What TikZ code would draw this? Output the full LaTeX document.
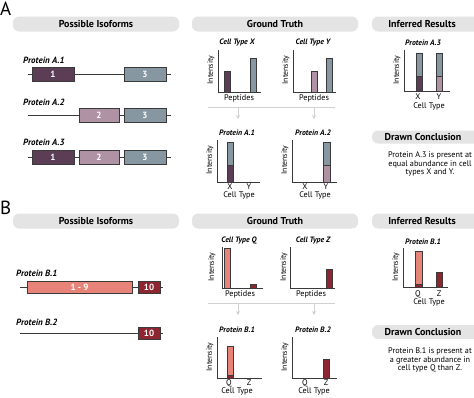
\documentclass[tikz,border=0pt]{standalone}
\usepackage{fontspec}
\setmainfont{PT Sans}
\usepackage{xcolor}
\usetikzlibrary{arrows.meta}

\definecolor{apurple}{HTML}{5B3D55}
\definecolor{amauve}{HTML}{B092A5}
\definecolor{agrey}{HTML}{8797A2}
\definecolor{bsalmon}{HTML}{E8837A}
\definecolor{bred}{HTML}{8E2530}
\definecolor{pillgrey}{HTML}{E4E4E4}
\definecolor{edgegrey}{HTML}{3A3A3A}

\begin{document}
\begin{tikzpicture}[x=1pt, y=-1pt,
  pill/.style={fill=pillgrey, rounded corners=6pt, inner sep=0pt, minimum height=15pt,
    font=\fontsize{10}{12}\selectfont\bfseries},
  pilltext/.style={inner sep=0pt, font=\fontsize{10}{12}\selectfont\bfseries},
  exon/.style={draw=edgegrey, line width=0.6pt, inner sep=0pt, minimum height=14pt,
    text=white, font=\fontsize{9}{10}\selectfont\bfseries},
  gene/.style={line width=0.6pt, edgegrey},
  isolab/.style={anchor=west, inner sep=0pt, font=\fontsize{9}{10}\selectfont\bfseries\itshape},
  ctitle/.style={inner sep=0pt, font=\fontsize{7.8}{9}\selectfont\bfseries\itshape},
  axlab/.style={inner sep=0pt, font=\fontsize{8.2}{9}\selectfont},
  ylab/.style={inner sep=0pt, rotate=90, font=\fontsize{7.8}{9}\selectfont},
  axis/.style={line width=0.8pt, edgegrey},
  bar/.style={draw=edgegrey, line width=0.4pt},
  flow/.style={line width=0.8pt, black!18},
  note/.style={align=center, inner sep=0pt, font=\fontsize{8.2}{8.7}\selectfont}]
\useasboundingbox (0,0) rectangle (474,397);

% ---------------- panel A ----------------
\node[anchor=north west, inner sep=0pt, font=\fontsize{19}{19}\selectfont] (labA) at (0,2) {A};
% titres
\node[pill, minimum width=166pt] (hA1) at (96,24) {Possible Isoforms};
\node[pill, minimum width=166pt] (hA2) at (275,24) {Ground Truth};
\node[pill, minimum width=110pt] (hA3) at (427,24) {};
\node[pilltext] (hA3t) at (422,24) {Inferred Results};

% isoforme A.1
\node[isolab] (pA1) at (23,60) {Protein A.1};
\draw[gene] (28,74) -- (171,74);
\node[exon, fill=apurple, minimum width=42pt] (a1e1) at (53,74) {1};
\node[exon, fill=agrey, minimum width=42pt] (a1e3) at (145,74) {3};
% isoforme A.2
\node[isolab] (pA2) at (23,102) {Protein A.2};
\draw[gene] (28,115) -- (171,115);
\node[exon, fill=amauve, minimum width=40pt] (a2e2) at (99,115) {2};
\node[exon, fill=agrey, minimum width=42pt] (a2e3) at (145,115) {3};
% isoforme A.3
\node[isolab] (pA3) at (23,142) {Protein A.3};
\draw[gene] (28,157) -- (171,157);
\node[exon, fill=apurple, minimum width=42pt] (a3e1) at (53,157) {1};
\node[exon, fill=amauve, minimum width=40pt] (a3e2) at (99,157) {2};
\node[exon, fill=agrey, minimum width=42pt] (a3e3) at (145,157) {3};

% cell type X
\node[ctitle] (tX) at (237,43) {Cell Type X};
\draw[bar, fill=apurple] (224,71) rectangle (230,92);
\draw[bar, fill=agrey] (250,58) rectangle (256,92);
\draw[axis] (218,50) |- (261,92);
\node[ylab] (iX) at (211,70) {Intensity};
\node[axlab] (pX) at (239,98) {Peptides};
% cell type Y
\node[ctitle] (tY) at (313,43) {Cell Type Y};
\draw[bar, fill=amauve] (311,71) rectangle (317,92);
\draw[bar, fill=agrey] (326,58) rectangle (332,92);
\draw[axis] (293,50) |- (336,92);
\node[ylab] (iY) at (286,70) {Intensity};
\node[axlab] (pY) at (314,98) {Peptides};

% fleches
\coordinate (fA1) at (208,107);
\coordinate (fA2) at (335,107);
\draw[flow] (fA1) -- (fA2);
\foreach \xx in {238,314}
  \draw[flow, -{Stealth[length=4pt, width=4pt]}] (\xx,107) -- (\xx,119);

% protein A.1
\node[ctitle] (tA1) at (237,133) {Protein A.1};
\draw[bar, fill=agrey] (227,142) rectangle (233,165);
\draw[bar, fill=apurple] (227,165) rectangle (233,182);
\draw[axis] (217,140) |- (260,182);
\node[ylab] (iA1) at (210,160) {Intensity};
\node[axlab] (xA1) at (230,187) {X};
\node[axlab] (yA1) at (249,187) {Y};
\node[axlab] (cA1) at (239,195) {Cell Type};
% protein A.2
\node[ctitle] (tA2) at (313,133) {Protein A.2};
\draw[bar, fill=agrey] (323,142) rectangle (330,165);
\draw[bar, fill=amauve] (323,165) rectangle (330,182);
\draw[axis] (292,140) |- (337,182);
\node[ylab] (iA2) at (285,160) {Intensity};
\node[axlab] (xA2) at (305,187) {X};
\node[axlab] (yA2) at (326,187) {Y};
\node[axlab] (cA2) at (315,195) {Cell Type};

% inferred A.3
\node[ctitle] (tA3) at (423,43) {Protein A.3};
\draw[bar, fill=agrey] (416,53) rectangle (422,76);
\draw[bar, fill=apurple] (416,76) rectangle (422,91);
\draw[bar, fill=agrey] (436,53) rectangle (442,76);
\draw[bar, fill=amauve] (436,76) rectangle (442,91);
\draw[axis] (404,50) |- (450,91);
\node[ylab] (iA3) at (397,70) {Intensity};
\node[axlab] (xA3) at (418,97) {X};
\node[axlab] (yA3) at (439,97) {Y};
\node[axlab] (cA3) at (429,106) {Cell Type};

% conclusion A
\node[pill, minimum width=110pt, minimum height=13pt] (dA) at (427,137) {};
\node[pilltext] (dAt) at (423,137) {Drawn Conclusion};
\node[note] (nA) at (430,164) {Protein A.3 is present at\\equal abundance in cell\\types X and Y.};

% ---------------- panel B ----------------
\node[anchor=north west, inner sep=0pt, font=\fontsize{19}{19}\selectfont] (labB) at (0,201) {B};
\node[pill, minimum width=166pt] (hB1) at (96,221) {Possible Isoforms};
\node[pill, minimum width=166pt] (hB2) at (275,221) {Ground Truth};
\node[pill, minimum width=110pt] (hB3) at (427,221) {};
\node[pilltext] (hB3t) at (422,221) {Inferred Results};

% isoforme B.1
\node[isolab] (pB1) at (16,273) {Protein B.1};
\draw[gene] (20,287) -- (163,287);
\node[exon, fill=bsalmon, minimum width=105pt, minimum height=12pt] (b1e1) at (79.5,287) {1 - 9};
\node[exon, fill=bred, minimum width=22pt, minimum height=12pt] (b1e10) at (149,287) {10};
% isoforme B.2
\node[isolab] (pB2) at (16,322) {Protein B.2};
\draw[gene] (20,333) -- (163,333);
\node[exon, fill=bred, minimum width=22pt, minimum height=12pt] (b2e10) at (149,333) {10};

% cell type Q
\node[ctitle] (tQ) at (239,241) {Cell Type Q};
\draw[bar, fill=bsalmon] (224,248) rectangle (230,288);
\draw[bar, fill=bred] (250,284) rectangle (256,288);
\draw[axis] (222,247) |- (263,288);
\node[ylab] (iQ) at (212,267) {Intensity};
\node[axlab] (pQ) at (240,294) {Peptides};
% cell type Z
\node[ctitle] (tZ) at (313,241) {Cell Type Z};
\draw[bar, fill=bred] (326,269) rectangle (332,288);
\draw[axis] (290,247) |- (335,288);
\node[ylab] (iZ) at (284,267) {Intensity};
\node[axlab] (pZ) at (311,294) {Peptides};

% fleches
\coordinate (fB1) at (208,303);
\coordinate (fB2) at (335,303);
\draw[flow] (fB1) -- (fB2);
\foreach \xx in {238,314}
  \draw[flow, -{Stealth[length=4pt, width=4pt]}] (\xx,303) -- (\xx,315);

% protein B.1
\node[ctitle] (tB1) at (237,330) {Protein B.1};
\draw[bar, fill=bsalmon] (227,346) rectangle (233,375);
\draw[bar, fill=bred] (227,375) rectangle (233,378);
\draw[axis] (217,337) |- (262,378);
\node[ylab] (iB1) at (210,357) {Intensity};
\node[axlab] (xB1) at (229,383) {Q};
\node[axlab] (yB1) at (249,383) {Z};
\node[axlab] (cB1) at (237,391) {Cell Type};
% protein B.2
\node[ctitle] (tB2) at (313,330) {Protein B.2};
\draw[bar, fill=bred] (323,359) rectangle (329,378);
\draw[axis] (292,337) |- (337,378);
\node[ylab] (iB2) at (285,357) {Intensity};
\node[axlab] (xB2) at (305,383) {Q};
\node[axlab] (yB2) at (326,383) {Z};
\node[axlab] (cB2) at (314,391) {Cell Type};

% inferred B.1
\node[ctitle] (tB3) at (423,242) {Protein B.1};
\draw[bar, fill=bsalmon] (415,251) rectangle (422,284);
\draw[bar, fill=bred] (415,284) rectangle (422,287);
\draw[bar, fill=bred] (436,272) rectangle (442,287);
\draw[axis] (403,248) |- (448,287);
\node[ylab] (iB3) at (396,267) {Intensity};
\node[axlab] (xB3) at (418,294) {Q};
\node[axlab] (yB3) at (439,294) {Z};
\node[axlab] (cB3) at (429,302) {Cell Type};

% conclusion B
\node[pill, minimum width=110pt, minimum height=14pt] (dB) at (427,332) {};
\node[pilltext] (dBt) at (423,332) {Drawn Conclusion};
\node[note] (nB) at (430,360) {Protein B.1 is present at\\a greater abundance in\\cell type Q than Z.};
\end{tikzpicture}
\end{document}
